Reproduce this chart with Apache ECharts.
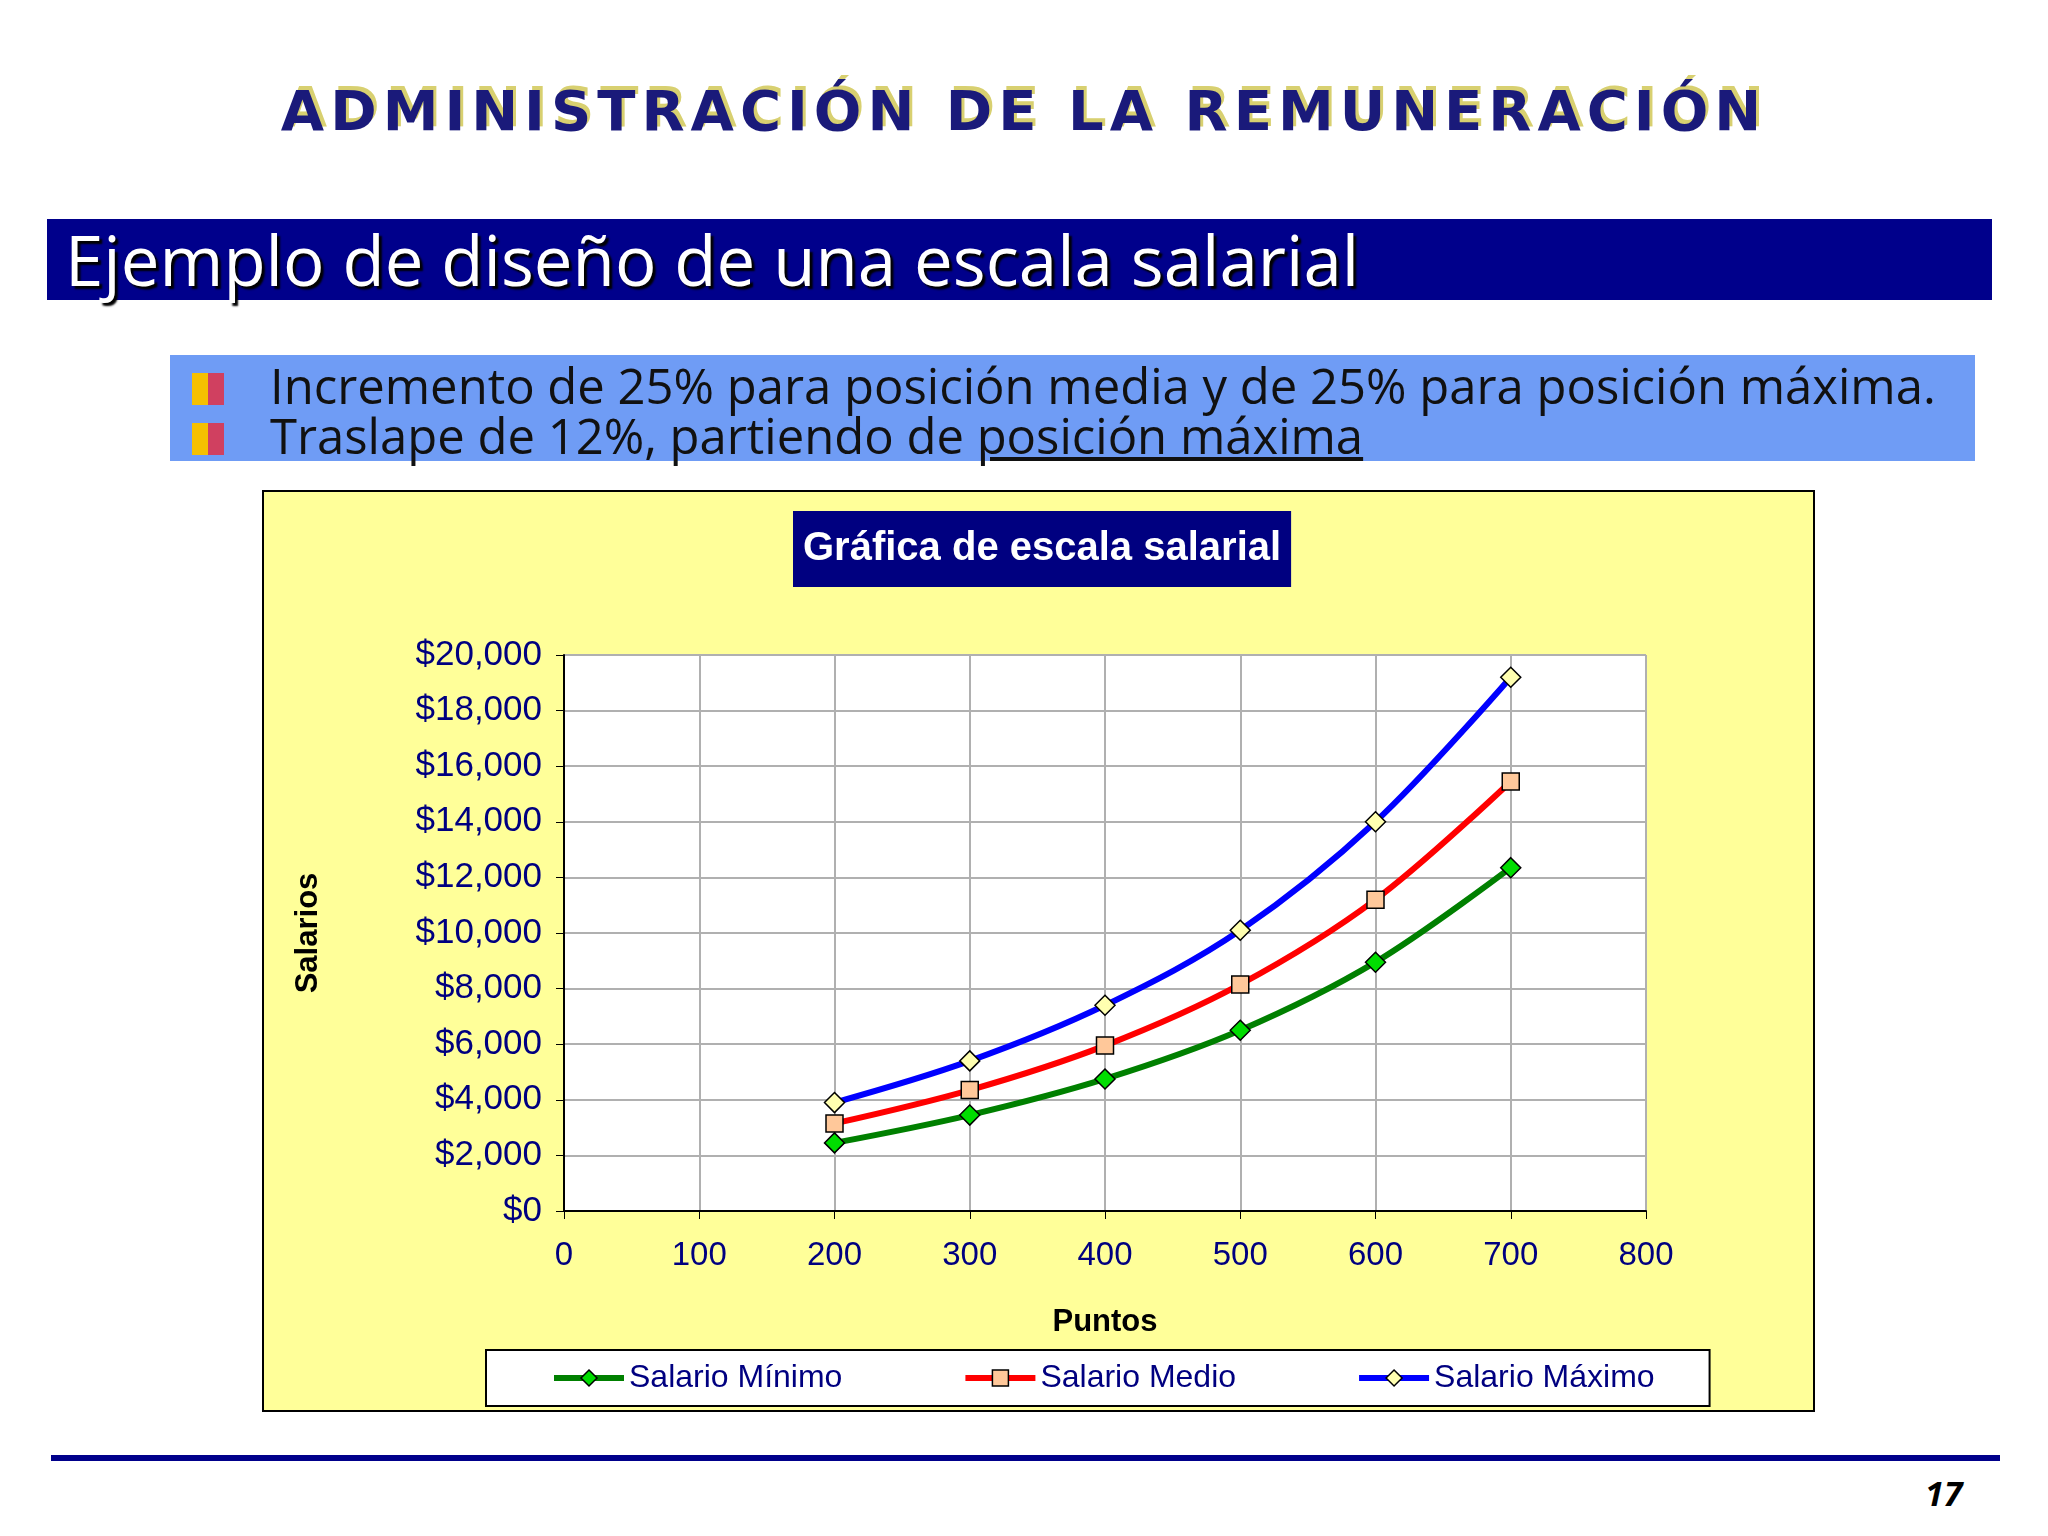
<!DOCTYPE html>
<html><head><meta charset="utf-8">
<script src="https://cdn.jsdelivr.net/npm/echarts@6/dist/echarts.min.js"></script>
<style>
body{margin:0;width:2048px;height:1536px;background:#fff;position:relative;overflow:hidden;font-family:"Open Sans",sans-serif}
#hdr{position:absolute;left:0;width:2048px;top:78px;text-align:center;font-family:"DejaVu Sans",sans-serif;font-weight:bold;font-size:56px;letter-spacing:6px;color:#1a1a7a;text-shadow:3px -4px 0 #d8d070}
#bar{position:absolute;left:47px;top:219px;width:1945px;height:81px;background:#00008b}
#bar span{position:absolute;left:18px;top:0px;font-size:69px;color:#fff;text-shadow:3px 3px 2px #000;line-height:81px}
#box{position:absolute;left:170px;top:355px;width:1805px;height:106px;background:#6f9cf5}
#box .t{position:absolute;left:100px;font-size:49px;color:#111;line-height:52px}
#box .b{position:absolute;left:22px;width:32px;height:32px;background:linear-gradient(90deg,#f5c000 50%,#d04060 50%)}
#chart{position:absolute;left:262px;top:490px;width:1553px;height:922px;background:#ffff99;border:2px solid #000;box-sizing:border-box}
#line{position:absolute;left:51px;top:1455px;width:1949px;height:6px;background:#00008b}
#pg{position:absolute;left:1925px;top:1470px;font-size:34px;font-weight:bold;font-style:italic}
</style></head><body>
<div id="hdr">ADMINISTRACIÓN DE LA REMUNERACIÓN</div>
<div id="bar"><span>Ejemplo de diseño de una escala salarial</span></div>
<div id="box">
<div class="b" style="top:18px"></div><div class="t" style="top:4px">Incremento de 25% para posición media y de 25% para posición máxima.</div>
<div class="b" style="top:68px"></div><div class="t" style="top:54px">Traslape de 12%, partiendo de <u>posición máxima</u></div>
</div>
<div id="chart"></div>
<div id="line"></div>
<div id="pg">17</div>
<script>
const puntos=[200,300,400,500,600,700];
const salMin=[2450,3450,4750,6500,8950,12350];
const salMed=[3150,4350,5950,8150,11200,15450];
const salMax=[3900,5400,7400,10100,14000,19200];
const pair=a=>puntos.map((p,i)=>[p,a[i]]);
const c=echarts.init(document.getElementById('chart'));
const font='Liberation Sans';
function s(name,data,color,symbol,fill){return{name,type:'line',smooth:0.35,data:pair(data),symbol,symbolSize:symbol==='diamond'?20:17,
 lineStyle:{color,width:6},itemStyle:{color:fill,borderColor:'#000',borderWidth:1.5},color};}
c.setOption({
 animation:false,
 title:{text:'Gráfica de escala salarial',left:529,top:19,padding:[18,10,18,10],backgroundColor:'#000080',
  textStyle:{color:'#fff',fontSize:40,fontWeight:'bold',fontFamily:font}},
 grid:{left:300,top:163,right:167,bottom:199,show:true,backgroundColor:'#fff',borderWidth:0},
 xAxis:{type:'value',min:0,max:800,interval:100,name:'Puntos',nameLocation:'middle',nameGap:96,
  nameTextStyle:{fontSize:31,fontWeight:'bold',color:'#000',fontFamily:font},
  axisLine:{lineStyle:{color:'#000',width:2}},axisTick:{show:true,length:8,lineStyle:{color:'#000'}},
  axisLabel:{fontSize:33,color:'#000080',fontFamily:font,margin:28},
  splitLine:{show:true,lineStyle:{color:'#b0b0b0',width:2}}},
 yAxis:{type:'value',min:0,max:20000,interval:2000,name:'Salarios',nameLocation:'middle',nameGap:240,nameRotate:90,
  nameTextStyle:{fontSize:31,fontWeight:'bold',color:'#000',fontFamily:font},
  axisLine:{show:true,lineStyle:{color:'#000',width:2}},axisTick:{show:true,length:8,lineStyle:{color:'#000'}},
  axisLabel:{fontSize:35,color:'#000080',fontFamily:font,margin:22,formatter:v=>'$'+v.toLocaleString('en-US')},
  splitLine:{show:true,lineStyle:{color:'#b0b0b0',width:2}}},
 legend:{left:222,top:858,height:59,itemGap:120,padding:[12,55,12,65],borderColor:'#000',borderWidth:2,backgroundColor:'#fff',
  itemWidth:70,itemHeight:20,itemStyle:{borderWidth:1.5},lineStyle:{width:6},textStyle:{fontSize:32,color:'#000080',fontFamily:font},
  data:['Salario Mínimo','Salario Medio','Salario Máximo']},
 series:[s('Salario Mínimo',salMin,'#008000','diamond','#00dd00'),
  s('Salario Medio',salMed,'#ff0000','rect','#ffc89a'),
  s('Salario Máximo',salMax,'#0000ff','diamond','#ffffb0')]
});
</script></body></html>
